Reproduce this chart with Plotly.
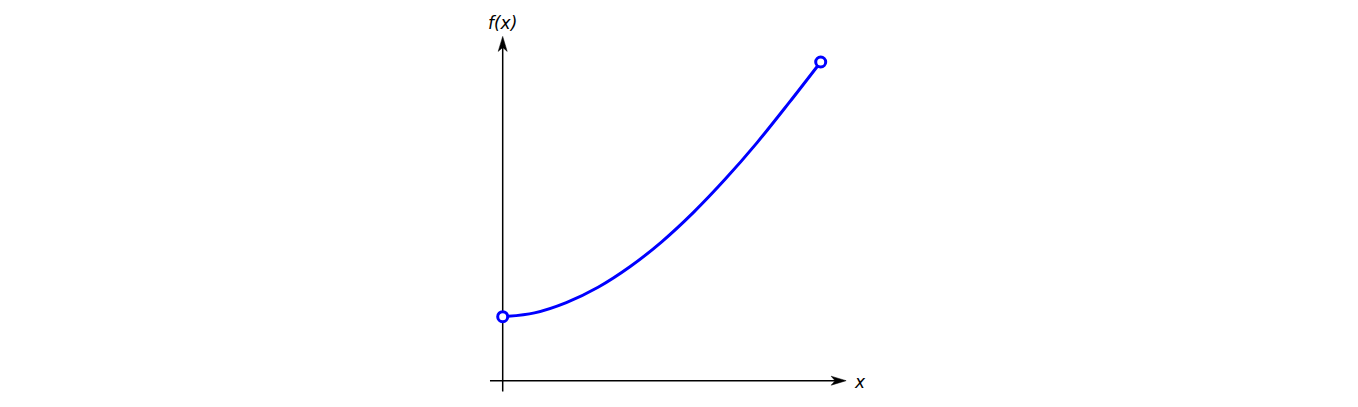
import plotly.graph_objects as go

# Curve values (x in axis units, f(x) in axis units)
x_vals = [0.0, 0.2, 0.4, 0.6, 0.8, 1.0, 1.2, 1.4, 1.6, 1.8, 2.0]
y_vals = [1.0, 1.06, 1.22, 1.46, 1.78, 2.17, 2.63, 3.15, 3.72, 4.34, 4.98]

# Axis extents (axis units)
x_axis_start, x_axis_end = -0.08, 2.16
y_axis_start, y_axis_end = -0.17, 5.38

x_label = "x"
y_label = "f(x)"

BLUE = "#0000ff"
PAGE_MARGIN = 8          # default body margin of the page
W, H = 1358 - 2 * PAGE_MARGIN, 407 - 2 * PAGE_MARGIN

fig = go.Figure()

fig.add_trace(go.Scatter(
    x=x_vals, y=y_vals, mode="lines",
    line=dict(color=BLUE, width=3, shape="spline", smoothing=1.0),
    hoverinfo="skip", showlegend=False,
))
fig.add_trace(go.Scatter(
    x=[x_vals[0], x_vals[-1]], y=[y_vals[0], y_vals[-1]], mode="markers",
    marker=dict(symbol="circle", size=10, color="white",
                line=dict(color=BLUE, width=3)),
    hoverinfo="skip", showlegend=False,
))

# axis lines
fig.add_shape(type="line", x0=x_axis_start, x1=x_axis_end - 0.05, y0=0, y1=0,
              line=dict(color="black", width=1.5), layer="below")
fig.add_shape(type="line", x0=0, x1=0, y0=y_axis_start, y1=y_axis_end - 0.12,
              line=dict(color="black", width=1.5), layer="below")
# arrowheads (pixel-sized paths anchored at the axis tips)
fig.add_shape(type="path", xsizemode="pixel", ysizemode="pixel",
              xanchor=x_axis_end, yanchor=0,
              path="M0,0 L-15,4.5 L-11,0 L-15,-4.5 Z",
              fillcolor="black", line=dict(color="black", width=0.5))
fig.add_shape(type="path", xsizemode="pixel", ysizemode="pixel",
              xanchor=0, yanchor=y_axis_end,
              path="M0,0 L4.5,-15 L0,-11 L-4.5,-15 Z",
              fillcolor="black", line=dict(color="black", width=0.5))

fig.add_annotation(x=x_axis_end, y=0, text="<i>" + x_label + "</i>",
                   showarrow=False, xanchor="left", yanchor="middle", xshift=6, yshift=-1,
                   font=dict(family="DejaVu Sans", size=17, color="black"))
fig.add_annotation(x=0, y=y_axis_end, text="<i>" + y_label + "</i>",
                   showarrow=False, xanchor="center", yanchor="bottom", yshift=1,
                   font=dict(family="DejaVu Sans", size=17, color="black"))

px_x = 159.0
px_y = 64.0
ox, oy = 502.7 - PAGE_MARGIN, 380.7 - PAGE_MARGIN
fig.update_layout(
    width=W, height=H,
    margin=dict(l=0, r=0, t=0, b=0),
    paper_bgcolor="white", plot_bgcolor="white",
    xaxis=dict(range=[-ox / px_x, (W - ox) / px_x], visible=False, fixedrange=True),
    yaxis=dict(range=[-(H - oy) / px_y, oy / px_y], visible=False, fixedrange=True),
)

fig.write_html("out.html")
